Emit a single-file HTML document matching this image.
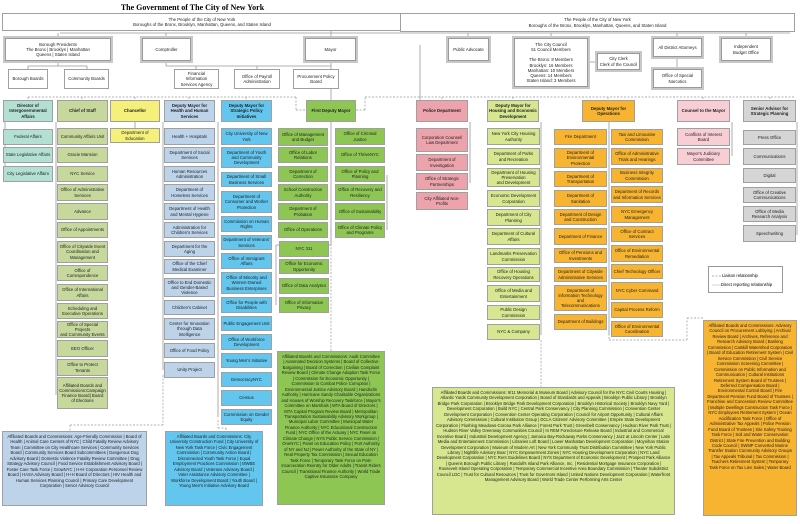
<!DOCTYPE html>
<html><head><meta charset="utf-8"><style>
body{margin:0;background:#fff;}
#c{position:relative;width:800px;height:524px;overflow:hidden;background:#fff;font-family:"Liberation Sans",sans-serif;}
.b{position:absolute;display:flex;align-items:center;justify-content:center;text-align:center;border:1px solid #a0a0a0;box-sizing:border-box;font-size:4.3px;line-height:1.2;color:#222;overflow:hidden;padding:0 1px;}
.g{border:2px solid #c8c8c8;outline:1px solid #999;outline-offset:-3px;background:#fff;}
.w{background:#fff;}
.h{font-weight:bold;}
.t{position:absolute;font-size:4.2px;line-height:1.3;text-align:center;box-sizing:border-box;border:1px solid #a0a0a0;padding:2px 3px;color:#222;overflow:hidden;}
.teal{background:#b2e0d2}.olive{background:#c6d89c}.yel{background:#f4f07a}.lb{background:#bcd3ea}.cy{background:#62c6ee}.gr{background:#8ec653}.pk{background:#eda3ab}.lime{background:#d6e78f}.or{background:#f7b431}.lp{background:#f8ced4}.gy{background:#d5d5d5}
</style></head><body><div id="c">
<svg width="800" height="524" style="position:absolute;left:0;top:0">
<g stroke="#999" stroke-width="0.8" fill="none">
<line x1="60" y1="33" x2="790" y2="33"/>
<line x1="58" y1="33" x2="58" y2="36"/><line x1="166" y1="33" x2="166" y2="36"/><line x1="331" y1="31" x2="331" y2="36"/><line x1="468" y1="33" x2="468" y2="36"/><line x1="551" y1="33" x2="551" y2="36"/><line x1="677" y1="33" x2="677" y2="36"/><line x1="746" y1="33" x2="746" y2="36"/>
<line x1="58" y1="63" x2="58" y2="66"/><line x1="28" y1="66" x2="87" y2="66"/><line x1="28" y1="66" x2="28" y2="69"/><line x1="87" y1="66" x2="87" y2="69"/>
<line x1="166" y1="63" x2="166" y2="66"/><line x1="166" y1="66" x2="331" y2="66"/><line x1="196" y1="66" x2="196" y2="69"/><line x1="257" y1="66" x2="257" y2="69"/><line x1="331" y1="63" x2="331" y2="100"/>
<line x1="590" y1="62" x2="595" y2="62"/><line x1="677" y1="59" x2="677" y2="67"/>
<line x1="5" y1="122" x2="5" y2="175"/><line x1="56" y1="122" x2="56" y2="395"/><line x1="163" y1="122" x2="163" y2="370"/><line x1="218" y1="122" x2="218" y2="417"/>
<line x1="135" y1="122" x2="135" y2="136"/>
<line x1="331" y1="122" x2="331" y2="245"/><line x1="331" y1="245" x2="276" y2="245"/><line x1="276" y1="245" x2="276" y2="305"/>
<line x1="387" y1="175" x2="387" y2="230"/>
<line x1="470" y1="122" x2="470" y2="183"/><line x1="541" y1="122" x2="541" y2="335"/><line x1="609" y1="122" x2="609" y2="335"/>
<line x1="732" y1="122" x2="732" y2="156"/><line x1="797" y1="122" x2="797" y2="235"/>
<line x1="420" y1="45" x2="420" y2="100"/>
</g>
<g stroke="#999" stroke-width="0.7" fill="none" stroke-dasharray="2,1.5">
<line x1="28" y1="97" x2="296" y2="97"/><line x1="365" y1="97" x2="795" y2="97"/>
<line x1="28" y1="97" x2="28" y2="100"/><line x1="82" y1="97" x2="82" y2="100"/><line x1="135" y1="97" x2="135" y2="100"/><line x1="189" y1="97" x2="189" y2="100"/><line x1="246" y1="97" x2="246" y2="100"/>
<line x1="296" y1="97" x2="296" y2="110"/><line x1="296" y1="110" x2="306" y2="110"/><line x1="356" y1="110" x2="365" y2="110"/><line x1="365" y1="110" x2="365" y2="97"/>
<line x1="442" y1="97" x2="442" y2="100"/><line x1="513" y1="97" x2="513" y2="100"/><line x1="608" y1="97" x2="608" y2="100"/><line x1="703" y1="97" x2="703" y2="100"/><line x1="770" y1="97" x2="770" y2="100"/>
<line x1="331" y1="230" x2="331" y2="351"/>
<line x1="163" y1="375" x2="163" y2="425"/><line x1="70" y1="425" x2="163" y2="425"/><line x1="70" y1="425" x2="70" y2="431"/>
<line x1="218" y1="420" x2="218" y2="428"/><line x1="218" y1="428" x2="226" y2="428"/><line x1="226" y1="428" x2="226" y2="431"/>
<line x1="541" y1="340" x2="541" y2="387"/>
<line x1="609" y1="330" x2="609" y2="340"/><line x1="609" y1="340" x2="687" y2="340"/><line x1="687" y1="340" x2="687" y2="318"/><line x1="687" y1="318" x2="703" y2="318"/>
<line x1="712" y1="276" x2="722" y2="276"/>
</g>
<line x1="712" y1="285" x2="722" y2="285" stroke="#ccc" stroke-width="0.8"/>
</svg>

<div style="position:absolute;left:0;top:3px;width:385px;text-align:center;font:bold 8px 'Liberation Serif',serif;">The Government of The City of New York</div>
<div class="b w" style="left:2px;top:13px;width:400px;height:18px;">The People of the City of New York<br>Boroughs of the Bronx, Brooklyn, Manhattan, Queens, and Staten Island</div>
<div class="b w" style="left:400px;top:13px;width:395px;height:19px;">The People of the City of New York<br>Boroughs of the Bronx, Brooklyn, Manhattan, Queens, and Staten Island</div>

<div class="b g" style="left:3px;top:36px;width:110px;height:27px;">Borough Presidents<br>The Bronx | Brooklyn | Manhattan<br>Queens | Staten Island</div>
<div class="b g" style="left:140px;top:36px;width:53px;height:27px;">Comptroller</div>
<div class="b g" style="left:303px;top:36px;width:55px;height:27px;">Mayor</div>
<div class="b g" style="left:446px;top:36px;width:45px;height:27px;">Public Advocate</div>
<div class="b g" style="left:512px;top:36px;width:78px;height:53px;">The City Council<br>51 Council Members<br><br>The Bronx: 8 Members<br>Brooklyn: 16 Members<br>Manhattan: 10 Members<br>Queens: 14 Members<br>Staten Island: 3 Members</div>
<div class="b g" style="left:595px;top:51px;width:47px;height:21px;">City Clerk<br>Clerk of the Council</div>
<div class="b g" style="left:651px;top:36px;width:53px;height:23px;">All District Attorneys</div>
<div class="b g" style="left:651px;top:67px;width:53px;height:23px;">Office of Special<br>Narcotics</div>
<div class="b g" style="left:719px;top:36px;width:54px;height:27px;">Independent<br>Budget Office</div>

<div class="b w" style="left:8px;top:69px;width:40px;height:20px;">Borough Boards</div>
<div class="b w" style="left:64px;top:69px;width:45px;height:20px;">Community Boards</div>
<div class="b w" style="left:174px;top:69px;width:45px;height:20px;">Financial<br>Information<br>Services Agency</div>
<div class="b w" style="left:234px;top:69px;width:46px;height:20px;">Office of Payroll<br>Administration</div>
<div class="b w" style="left:293px;top:69px;width:46px;height:20px;">Procurement Policy<br>Board</div>

<div class="b h teal" style="left:3px;top:100px;width:50px;height:22px;">Director of<br>Intergovernmental<br>Affairs</div>
<div class="b h olive" style="left:57px;top:100px;width:51px;height:22px;">Chief of Staff</div>
<div class="b h yel" style="left:110px;top:100px;width:50px;height:22px;">Chancellor</div>
<div class="b h lb" style="left:164px;top:100px;width:51px;height:22px;">Deputy Mayor for<br>Health and Human<br>Services</div>
<div class="b h cy" style="left:221px;top:100px;width:51px;height:22px;">Deputy Mayor for<br>Strategic Policy<br>Initiatives</div>
<div class="b h gr" style="left:306px;top:100px;width:50px;height:22px;">First Deputy Mayor</div>
<div class="b h pk" style="left:416px;top:100px;width:52px;height:22px;">Police Department</div>
<div class="b h lime" style="left:487px;top:100px;width:52px;height:22px;">Deputy Mayor for<br>Housing and Economic<br>Development</div>
<div class="b h or" style="left:582px;top:100px;width:53px;height:22px;">Deputy Mayor for<br>Operations</div>
<div class="b h lp" style="left:677px;top:100px;width:53px;height:22px;">Counsel to the Mayor</div>
<div class="b h gy" style="left:743px;top:100px;width:53px;height:22px;">Senior Advisor for<br>Strategic Planning</div>

<div class="b teal" style="left:3px;top:129px;width:50px;height:16px;">Federal Affairs</div>
<div class="b teal" style="left:3px;top:147px;width:50px;height:16px;">State Legislative Affairs</div>
<div class="b teal" style="left:3px;top:166px;width:50px;height:16px;">City Legislative Affairs</div>

<div class="b olive" style="left:57px;top:128px;width:51px;height:17px;">Community Affairs Unit</div>
<div class="b olive" style="left:57px;top:147px;width:51px;height:16px;">Gracie Mansion</div>
<div class="b olive" style="left:57px;top:166px;width:51px;height:16px;">NYC Service</div>
<div class="b olive" style="left:57px;top:184px;width:51px;height:17px;">Office of Administrative<br>Services</div>
<div class="b olive" style="left:57px;top:203px;width:51px;height:17px;">Advance</div>
<div class="b olive" style="left:57px;top:222px;width:51px;height:16px;">Office of Appointments</div>
<div class="b olive" style="left:57px;top:241px;width:51px;height:22px;">Office of Citywide Event<br>Coordination and<br>Management</div>
<div class="b olive" style="left:57px;top:265px;width:51px;height:16px;">Office of<br>Correspondence</div>
<div class="b olive" style="left:57px;top:284px;width:51px;height:17px;">Office of International<br>Affairs</div>
<div class="b olive" style="left:57px;top:303px;width:51px;height:16px;">Scheduling and<br>Executive Operations</div>
<div class="b olive" style="left:57px;top:321px;width:51px;height:17px;">Office of Special Projects<br>and Community Events</div>
<div class="b olive" style="left:57px;top:340px;width:51px;height:17px;">EEO Officer</div>
<div class="b olive" style="left:57px;top:359px;width:51px;height:17px;">Office to Protect<br>Tenants</div>
<div class="b olive" style="left:57px;top:377px;width:51px;height:32px;">Affiliated Boards and<br>Commissions:Campaign<br>Finance Board| Board<br>of Elections</div>

<div class="b yel" style="left:110px;top:128px;width:50px;height:15px;">Department of<br>Education</div>

<div class="b lb" style="left:164px;top:128px;width:51px;height:17px;">Health + Hospitals</div>
<div class="b lb" style="left:164px;top:147px;width:51px;height:16px;">Department of Social<br>Services</div>
<div class="b lb" style="left:164px;top:166px;width:51px;height:16px;">Human Resources<br>Administration</div>
<div class="b lb" style="left:164px;top:184px;width:51px;height:17px;">Department of<br>Homeless Services</div>
<div class="b lb" style="left:164px;top:203px;width:51px;height:17px;">Department of Health<br>and Mental Hygiene</div>
<div class="b lb" style="left:164px;top:222px;width:51px;height:16px;">Administration for<br>Children's Services</div>
<div class="b lb" style="left:164px;top:241px;width:51px;height:16px;">Department for the<br>Aging</div>
<div class="b lb" style="left:164px;top:259px;width:51px;height:15px;">Office of the Chief<br>Medical Examiner</div>
<div class="b lb" style="left:164px;top:278px;width:51px;height:19px;">Office to End Domestic<br>and Gender-Based<br>Violence</div>
<div class="b lb" style="left:164px;top:300px;width:51px;height:15px;">Children's Cabinet</div>
<div class="b lb" style="left:164px;top:318px;width:51px;height:22px;">Center for Innovation<br>through Data<br>Intelligence</div>
<div class="b lb" style="left:164px;top:343px;width:51px;height:15px;">Office of Food Policy</div>
<div class="b lb" style="left:164px;top:362px;width:51px;height:16px;">Unity Project</div>

<div class="b cy" style="left:221px;top:128px;width:51px;height:17px;">City University of New<br>York</div>
<div class="b cy" style="left:221px;top:147px;width:51px;height:21px;">Department of Youth<br>and Community<br>Development</div>
<div class="b cy" style="left:221px;top:172px;width:51px;height:15px;">Department of Small<br>Business Services</div>
<div class="b cy" style="left:221px;top:191px;width:51px;height:22px;">Department of<br>Consumer and Worker<br>Protection</div>
<div class="b cy" style="left:221px;top:216px;width:51px;height:16px;">Commission on Human<br>Rights</div>
<div class="b cy" style="left:221px;top:235px;width:51px;height:15px;">Department of Veterans'<br>Services</div>
<div class="b cy" style="left:221px;top:253px;width:51px;height:16px;">Office of Immigrant<br>Affairs</div>
<div class="b cy" style="left:221px;top:272px;width:51px;height:22px;">Office of Minority and<br>Women-Owned<br>Business Enterprises</div>
<div class="b cy" style="left:221px;top:297px;width:51px;height:16px;">Office for People with<br>Disabilities</div>
<div class="b cy" style="left:221px;top:316px;width:51px;height:15px;">Public Engagement Unit</div>
<div class="b cy" style="left:221px;top:334px;width:51px;height:16px;">Office of Workforce<br>Development</div>
<div class="b cy" style="left:221px;top:353px;width:51px;height:15px;">Young Men's Initiative</div>
<div class="b cy" style="left:221px;top:372px;width:51px;height:15px;">DemocracyNYC</div>
<div class="b cy" style="left:221px;top:390px;width:51px;height:16px;">Census</div>
<div class="b cy" style="left:221px;top:409px;width:51px;height:16px;">Commission on Gender<br>Equity</div>

<div class="b gr" style="left:278px;top:128px;width:50px;height:18px;">Office of Management<br>and Budget</div>
<div class="b gr" style="left:278px;top:147px;width:50px;height:16px;">Office of Labor Relations</div>
<div class="b gr" style="left:278px;top:166px;width:50px;height:16px;">Department of<br>Correction</div>
<div class="b gr" style="left:278px;top:184px;width:50px;height:17px;">School Construction<br>Authority</div>
<div class="b gr" style="left:278px;top:203px;width:50px;height:17px;">Department of<br>Probation</div>
<div class="b gr" style="left:278px;top:222px;width:50px;height:16px;">Office of Operations</div>
<div class="b gr" style="left:279px;top:241px;width:50px;height:16px;">NYC 311</div>
<div class="b gr" style="left:279px;top:259px;width:50px;height:15px;">Office for Economic<br>Opportunity</div>
<div class="b gr" style="left:279px;top:278px;width:50px;height:16px;">Office of Data Analytics</div>
<div class="b gr" style="left:279px;top:297px;width:50px;height:16px;">Office of Information<br>Privacy</div>
<div class="b gr" style="left:335px;top:128px;width:50px;height:17px;">Office of Criminal Justice</div>
<div class="b gr" style="left:335px;top:147px;width:50px;height:16px;">Office of ThriveNYC</div>
<div class="b gr" style="left:335px;top:166px;width:50px;height:16px;">Office of Policy and<br>Planning</div>
<div class="b gr" style="left:335px;top:184px;width:50px;height:17px;">Office of Recovery and<br>Resiliency</div>
<div class="b gr" style="left:335px;top:203px;width:50px;height:17px;">Office of Sustainability</div>
<div class="b gr" style="left:335px;top:222px;width:50px;height:16px;">Office of Climate Policy<br>and Programs</div>
<div class="t gr" style="left:277px;top:351px;width:108px;height:154px;">Affiliated Boards and Commissions: Audit Committee | Automated Decision Systems | Board of Collective Bargaining | Board of Correction | Civilian Complaint Review Board | Climate Change Adaption Task Force | Commission for Economic Opportunity | Commission to Combat Police Corruption | Environmental Justice Advisory Board | Handsclis Authority | Hurricane Sandy Charitable Organizations and Houses of Worship Recovery Taskforce | Mayor's Committee on Marshals | MTA Board of Directors | MTA Capital Program Review Board | Metropolitan Transportation Sustainability Advisory Workgroup | Municipal Labor Committee | Municipal Water Finance Authority | NYC Educational Construction Fund | NYC Office of the Actuary | NYC Panel on Climate Change | NYS Public Service Commission | OneNYC | Panel on Education Policy | Port Authority of NY and NJ | Power Authority of the State of NY | Real Property Tax Commission | Sexual Education Task Force | Temporary Task Force on Post-Incarceration Reentry for Older Adults | Transit Riders Council | Transitional Finance Authority | World Trade Captive Insurance Company</div>

<div class="b pk" style="left:416px;top:128px;width:52px;height:24px;">Corporation Counsel/<br>Law Department</div>
<div class="b pk" style="left:416px;top:154px;width:52px;height:17px;">Department of<br>Investigation</div>
<div class="b pk" style="left:416px;top:173px;width:52px;height:17px;">Office of Strategic<br>Partnerships</div>
<div class="b pk" style="left:416px;top:192px;width:52px;height:18px;">City Affiliated Non-<br>Profits</div>

<div class="b lime" style="left:487px;top:128px;width:53px;height:17px;">New York City Housing<br>Authority</div>
<div class="b lime" style="left:487px;top:148px;width:53px;height:17px;">Department of Parks<br>and Recreation</div>
<div class="b lime" style="left:487px;top:168px;width:53px;height:19px;">Department of Housing<br>Preservation<br>and Development</div>
<div class="b lime" style="left:487px;top:190px;width:53px;height:17px;">Economic Development<br>Corporation</div>
<div class="b lime" style="left:487px;top:209px;width:53px;height:17px;">Department of City<br>Planning</div>
<div class="b lime" style="left:487px;top:228px;width:53px;height:17px;">Department of Cultural<br>Affairs</div>
<div class="b lime" style="left:487px;top:248px;width:53px;height:17px;">Landmarks Preservation<br>Commission</div>
<div class="b lime" style="left:487px;top:267px;width:53px;height:15px;">Office of Housing<br>Recovery Operations</div>
<div class="b lime" style="left:487px;top:285px;width:53px;height:17px;">Office of Media and<br>Entertainment</div>
<div class="b lime" style="left:487px;top:305px;width:53px;height:15px;">Public Design<br>Commission</div>
<div class="b lime" style="left:487px;top:324px;width:53px;height:16px;">NYC &amp; Company</div>
<div class="t lime" style="left:432px;top:387px;width:243px;height:128px;">Affiliated Boards and Commissions: 9/11 Memorial &amp; Museum Board | Advisory Council for the NYC Civil Courts Housing | Atlantic Yards Community Development Corporation | Board of Standards and Appeals | Brooklyn Public Library | Brooklyn Bridge Park Corporation | Brooklyn Bridge Park Development Corporation | Brooklyn Historical Society | Brooklyn Navy Yard | Development Corporation | Build NYC | Central Park Conservancy | City Planning Commission | Convention Center Development Corporation | Convention Center Operating Corporation | Council for Airport Opportunity | Cultural Affairs Advisory Commission | Cultural Institution Group | DCLA Citizens' Advisory Committee | Empire State Development Corporation | Flushing Meadows-Corona Park Alliance | Forest Park Trust | Greenbelt Conservancy | Hudson River Park Trust | Hudson River Valley Greenway Communities Council | In REM Foreclosure Release Board | Industrial and Commercial Incentive Board | Industrial Development Agency | Jamaica Bay-Rockaway Parks Conservancy | Jazz at Lincoln Center | Latin Media and Entertainment Commission | Libraries Loft Board | Lower Manhattan Development Corporation | Moynihan Station Development Corporation | Museum of Modern Art | New York Community Trust Distribution Committee | New York Public Library | Nightlife Advisory Boar | NYC Empowerment Zones | NYC Housing Development Corporation | NYC Land Development Corporation | NYC Rent Guidelines Board | NYS Department of Economic Development | Prospect Park Alliance | Queens Borough Public Library | Randall's Island Park Alliance, Inc. | Residential Mortgage Insurance Corporation | Roosevelt Island Operating Corporation | Temporary Commercial Incentive Area Boundary Commission | Theater Subdistrict Council LDC | Trust for Cultural Resources | Trust for Governors Island | United Nations Development Corporation | Waterfront Management Advisory Board | World Trade Center Performing Arts Center</div>

<div class="b or" style="left:554px;top:129px;width:53px;height:16px;">Fire Department</div>
<div class="b or" style="left:554px;top:148px;width:53px;height:20px;">Department of<br>Environmental<br>Protection</div>
<div class="b or" style="left:554px;top:171px;width:53px;height:16px;">Department of<br>Transportation</div>
<div class="b or" style="left:554px;top:190px;width:53px;height:17px;">Department of<br>Sanitation</div>
<div class="b or" style="left:554px;top:209px;width:53px;height:16px;">Department of Design<br>and Construction</div>
<div class="b or" style="left:554px;top:228px;width:53px;height:17px;">Department of Finance</div>
<div class="b or" style="left:554px;top:248px;width:53px;height:15px;">Office of Pensions and<br>Investments</div>
<div class="b or" style="left:554px;top:267px;width:53px;height:15px;">Department of Citywide<br>Administrative Services</div>
<div class="b or" style="left:554px;top:285px;width:53px;height:26px;">Department of<br>Information Technology<br>and<br>Telecommunications</div>
<div class="b or" style="left:554px;top:314px;width:53px;height:16px;">Department of Buildings</div>
<div class="b or" style="left:611px;top:129px;width:52px;height:16px;">Taxi and Limousine<br>Commission</div>
<div class="b or" style="left:611px;top:148px;width:52px;height:17px;">Office of Administrative<br>Trials and Hearings</div>
<div class="b or" style="left:611px;top:168px;width:52px;height:15px;">Business Integrity<br>Commission</div>
<div class="b or" style="left:611px;top:186px;width:52px;height:17px;">Department of Records<br>and Information Services</div>
<div class="b or" style="left:611px;top:206px;width:52px;height:17px;">NYC Emergency<br>Management</div>
<div class="b or" style="left:611px;top:226px;width:52px;height:16px;">Office of Contract<br>Services</div>
<div class="b or" style="left:611px;top:245px;width:52px;height:17px;">Office of Environmental<br>Remediation</div>
<div class="b or" style="left:611px;top:264px;width:52px;height:15px;">Chief Technology Officer</div>
<div class="b or" style="left:611px;top:282px;width:52px;height:18px;">NYC Cyber Command</div>
<div class="b or" style="left:611px;top:302px;width:52px;height:16px;">Capital Process Reform</div>
<div class="b or" style="left:611px;top:321px;width:52px;height:16px;">Office of Environmental<br>Coordination</div>
<div class="t or" style="left:703px;top:320px;width:94px;height:196px;">Affiliated Boards and Commissions: Advisory Council on Procurement Lobbying | Archival Review Board | Archives, Reference and Research Advisory Board | Banking Commission | Catskill Watershed Corporation | Board of Education Retirement System | Civil Service Commission | Civil Service Commission Screening Committee | Commission on Public Information and Communication | Cultural Institutions Retirement System Board of Trustees | Deferred Compensation Board | Environmental Control Board | Fire Department Pension Fund Board of Trustees | Franchise and Concession Review Committee | Multiple Dwellings Construction Task Force | NYC Employees Retirement System | Ocean Acidification Task Force | Office of Administrative Tax Appeals | Police Pension Fund Board of Trustees | Site Safety Training Task Force | Soil and Water Conservation District | State Fire Prevention and Building Code Council | SWMP Converted Marine Transfer Station Community Advisory Groups | Tax Appeals Tribunal | Tax Commission | Teachers Retirement System | Temporary Task Force on Tax Lien Sales | Water Board</div>

<div class="b lp" style="left:677px;top:128px;width:53px;height:18px;">Conflicts of Interest<br>Board</div>
<div class="b lp" style="left:677px;top:148px;width:53px;height:17px;">Mayor's Judiciary<br>Committee</div>

<div class="b gy" style="left:743px;top:130px;width:53px;height:15px;">Press Office</div>
<div class="b gy" style="left:743px;top:148px;width:53px;height:17px;">Communications</div>
<div class="b gy" style="left:743px;top:168px;width:53px;height:15px;">Digital</div>
<div class="b gy" style="left:743px;top:187px;width:53px;height:16px;">Office of Creative<br>Communications</div>
<div class="b gy" style="left:743px;top:206px;width:53px;height:16px;">Office of Media<br>Research Analysis</div>
<div class="b gy" style="left:743px;top:225px;width:53px;height:17px;">Speechwriting</div>

<div style="position:absolute;left:708px;top:266px;width:75px;height:27px;border:1px solid #999;box-sizing:border-box;"></div>
<div style="position:absolute;left:722px;top:273px;font-size:4.2px;">Liaison relationship</div>
<div style="position:absolute;left:721px;top:282px;font-size:4.2px;">Direct reporting relationship</div>

<div class="t lb" style="left:2px;top:431px;width:145px;height:75px;">Affiliated Boards and Commissions: Age-Friendly Commission | Board of Health | Animal Care Centers of NYC | Child Fatality Review Advisory Team | Committee on City Healthcare Services | Community Services Board | Community Services Board Subcommittees | Dangerous Dog Advisory Board | Domestic Violence Fatality Review Committee | Drug Strategy Advisory Council | Food Service Establishment Advisory Board | Foster Care Task Force | GrowNYC | H+H Corporation Personnel Review Board | HASA Advisory Board | H+H Board of Directors | HIV Health and Human Services Planning Council | Primary Care Development Corporation | Senior Advisory Council</div>
<div class="t cy" style="left:165px;top:431px;width:98px;height:75px;">Affiliated Boards and Commissions: City University Construction Fund | City University of New York Task Force | Civic Engagement Commission | Community Action Board | Disconnected Youth Task Force | Equal Employment Practices Commission | MWBE Advisory Board | Veterans Advisory Board | Voter Assistance Advisory Committee | Workforce Development Board | Youth Board | Young Men's Initiative Advisory Board</div>
</div></body></html>
